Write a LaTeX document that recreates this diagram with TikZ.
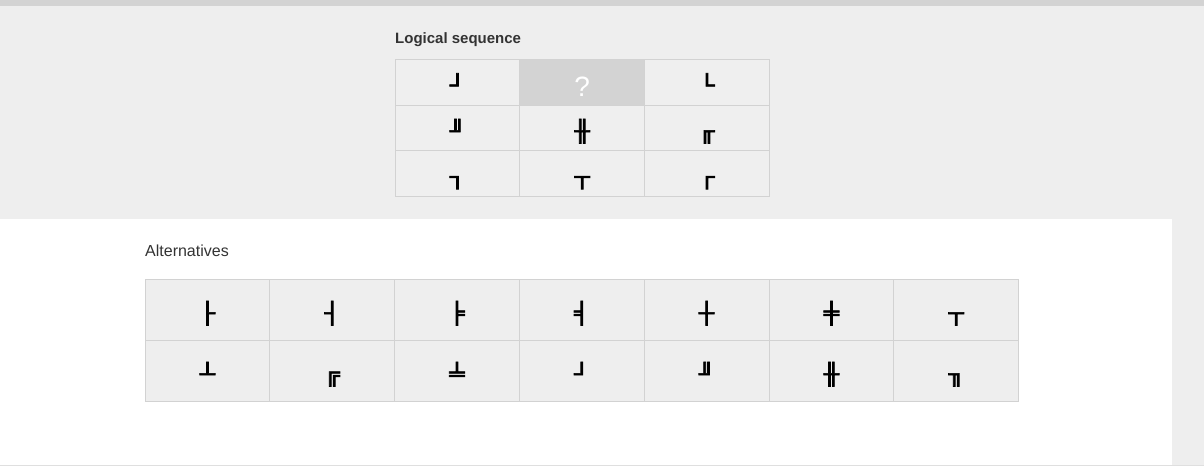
\documentclass[tikz,border=0pt]{standalone}
\usepackage{fontspec}
\usepackage{graphicx}
\usepackage{xcolor}
\usepackage{tikz}
\usetikzlibrary{positioning}
\setmainfont{Liberation Sans}
\newfontfamily\boxfont[FakeBold=3]{DejaVu Sans Mono}
\definecolor{pagegray}{HTML}{EEEEEE}
\definecolor{bargray}{HTML}{D3D3D3}
\definecolor{cellline}{HTML}{D2D2D2}
\definecolor{cellfill}{HTML}{EFEFEF}
\definecolor{labelgray}{HTML}{333333}
\newcommand{\bx}[1]{\scalebox{1.04}[0.86]{\boxfont\fontsize{24}{24}\selectfont #1}}

\begin{document}
\begin{tikzpicture}[
    x=1pt, y=-1pt,
    cell/.style={rectangle, draw=cellline, fill=cellfill, line width=1pt, minimum width=124.8pt, minimum height=45.7pt, inner sep=0pt, outer sep=0pt},
    altcell/.style={cell, fill=pagegray, minimum height=61pt},
    glyph/.style={anchor=base, inner sep=0pt, text=black},
    title/.style={anchor=base west, inner sep=0pt, text=labelgray}
]
    \useasboundingbox (0,0) rectangle (1204,466);
    % page background
    \fill[pagegray] (0,0) rectangle (1204,466);
    \fill[bargray] (0,0) rectangle (1204,6);
    \fill[white] (0,219) rectangle (1172,465);
    \fill[cellline!70] (0,465) rectangle (1204,466);

    % logical sequence
    \node[title, font=\bfseries\fontsize{15}{18}\selectfont] (seqtitle) at (395,43) {Logical sequence};
    \node[cell, anchor=north west] (s11) at (395,59.5) {};
    \node[cell, fill=bargray, right=0pt of s11] (s12) {};
    \node[cell, right=0pt of s12] (s13) {};
    \node[cell, below=0pt of s11] (s21) {};
    \node[cell, right=0pt of s21] (s22) {};
    \node[cell, right=0pt of s22] (s23) {};
    \node[cell, below=0pt of s21] (s31) {};
    \node[cell, right=0pt of s31] (s32) {};
    \node[cell, right=0pt of s32] (s33) {};

    \node[glyph] (g11) at ([yshift=-10.3pt]s11.center) {\bx{┘}};
    \node[anchor=base, inner sep=0pt, text=white, font=\fontsize{28}{28}\selectfont] (g12) at ([yshift=-14.5pt]s12.center) {?};
    \node[glyph] (g13) at ([yshift=-10.3pt]s13.center) {\bx{└}};
    \node[glyph] (g21) at ([yshift=-10.3pt]s21.center) {\bx{╜}};
    \node[glyph] (g22) at ([yshift=-10.3pt]s22.center) {\bx{╫}};
    \node[glyph] (g23) at ([yshift=-10.3pt]s23.center) {\bx{╓}};
    \node[glyph] (g31) at ([yshift=-10.3pt]s31.center) {\bx{┐}};
    \node[glyph] (g32) at ([yshift=-10.3pt]s32.center) {\bx{┬}};
    \node[glyph] (g33) at ([yshift=-10.3pt]s33.center) {\bx{┌}};

    % alternatives
    \node[title, font=\fontsize{16}{19}\selectfont] (alttitle) at (145,256) {Alternatives};
    \node[altcell, anchor=north west] (a11) at (145,279.5) {};
    \node[altcell, right=0pt of a11] (a12) {};
    \node[altcell, right=0pt of a12] (a13) {};
    \node[altcell, right=0pt of a13] (a14) {};
    \node[altcell, right=0pt of a14] (a15) {};
    \node[altcell, right=0pt of a15] (a16) {};
    \node[altcell, right=0pt of a16] (a17) {};
    \node[altcell, below=0pt of a11] (a21) {};
    \node[altcell, right=0pt of a21] (a22) {};
    \node[altcell, right=0pt of a22] (a23) {};
    \node[altcell, right=0pt of a23] (a24) {};
    \node[altcell, right=0pt of a24] (a25) {};
    \node[altcell, right=0pt of a25] (a26) {};
    \node[altcell, right=0pt of a26] (a27) {};

    \node[glyph] (h11) at ([yshift=-10.3pt]a11.center) {\bx{├}};
    \node[glyph] (h12) at ([yshift=-10.3pt]a12.center) {\bx{┤}};
    \node[glyph] (h13) at ([yshift=-10.3pt]a13.center) {\bx{╞}};
    \node[glyph] (h14) at ([yshift=-10.3pt]a14.center) {\bx{╡}};
    \node[glyph] (h15) at ([yshift=-10.3pt]a15.center) {\bx{┼}};
    \node[glyph] (h16) at ([yshift=-10.3pt]a16.center) {\bx{╪}};
    \node[glyph] (h17) at ([yshift=-10.3pt]a17.center) {\bx{┬}};
    \node[glyph] (h21) at ([yshift=-10.3pt]a21.center) {\bx{┴}};
    \node[glyph] (h22) at ([yshift=-10.3pt]a22.center) {\bx{╔}};
    \node[glyph] (h23) at ([yshift=-10.3pt]a23.center) {\bx{╧}};
    \node[glyph] (h24) at ([yshift=-10.3pt]a24.center) {\bx{┘}};
    \node[glyph] (h25) at ([yshift=-10.3pt]a25.center) {\bx{╜}};
    \node[glyph] (h26) at ([yshift=-10.3pt]a26.center) {\bx{╫}};
    \node[glyph] (h27) at ([yshift=-10.3pt]a27.center) {\bx{╖}};
\end{tikzpicture}
\end{document}
